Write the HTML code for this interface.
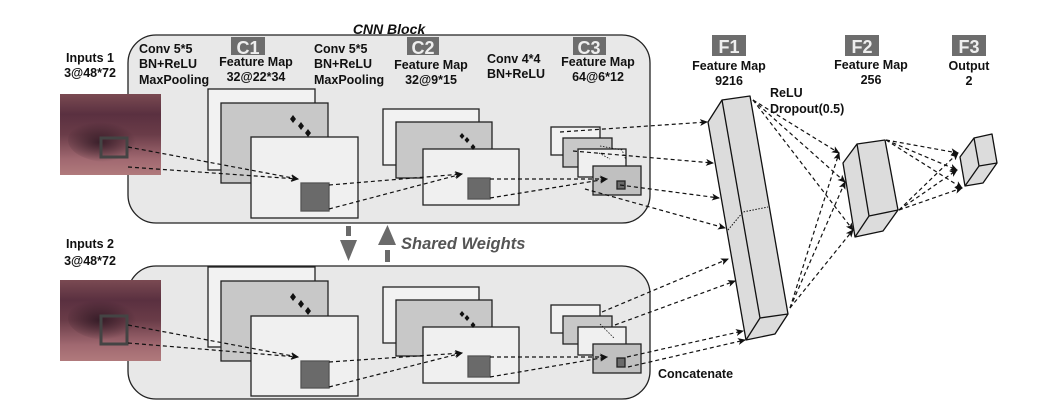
<!DOCTYPE html>
<html><head><meta charset="utf-8"><style>
body{margin:0;background:#fff}
svg{display:block}
text{font-family:"Liberation Sans",sans-serif;font-weight:bold;fill:#111}
</style></head><body>
<svg width="1044" height="416" viewBox="0 0 1044 416" xmlns="http://www.w3.org/2000/svg">
<defs>
<marker id="ah" markerWidth="8" markerHeight="8" refX="7" refY="4" orient="auto" markerUnits="userSpaceOnUse">
<path d="M0,0.5 L8,4 L0,7.5 L2,4 Z" fill="#111"/></marker>
<linearGradient id="eye" x1="0" y1="0" x2="0" y2="1">
<stop offset="0" stop-color="#7a4a52"/><stop offset="0.25" stop-color="#5a3040"/><stop offset="0.5" stop-color="#6a3c48"/><stop offset="0.8" stop-color="#a06870"/><stop offset="1" stop-color="#b07a7c"/></linearGradient>
<radialGradient id="pupil" cx="0.4" cy="0.55" r="0.45"><stop offset="0" stop-color="#2a1520" stop-opacity="0.8"/><stop offset="1" stop-color="#2a1520" stop-opacity="0"/></radialGradient>
</defs>

<!-- top block -->
<rect x="128" y="35" width="522" height="188" rx="28" fill="#e8e8e8" stroke="#222" stroke-width="1.3"/>
<text x="389" y="34" text-anchor="middle" font-size="14" font-style="italic">CNN Block</text>
<!-- bottom block -->
<rect x="128" y="266" width="522" height="133" rx="28" fill="#e8e8e8" stroke="#222" stroke-width="1.3"/>

<!-- labels -->
<text x="90" y="62" text-anchor="middle" font-size="12.5">Inputs 1</text>
<text x="90" y="77" text-anchor="middle" font-size="12.5">3@48*72</text>
<text x="90" y="248" text-anchor="middle" font-size="12.5">Inputs 2</text>
<text x="90" y="265" text-anchor="middle" font-size="12.5">3@48*72</text>

<g font-size="12.5">
<text x="139" y="53">Conv 5*5</text><text x="139" y="68">BN+ReLU</text><text x="139" y="84">MaxPooling</text>
<text x="314" y="53">Conv 5*5</text><text x="314" y="68">BN+ReLU</text><text x="314" y="84">MaxPooling</text>
<text x="487" y="63">Conv 4*4</text><text x="487" y="78">BN+ReLU</text>
<text x="256" y="66" text-anchor="middle">Feature Map</text><text x="256" y="81" text-anchor="middle">32@22*34</text>
<text x="431" y="69" text-anchor="middle">Feature Map</text><text x="431" y="84" text-anchor="middle">32@9*15</text>
<text x="598" y="66" text-anchor="middle">Feature Map</text><text x="598" y="81" text-anchor="middle">64@6*12</text>
<text x="729" y="70" text-anchor="middle">Feature Map</text><text x="729" y="85" text-anchor="middle">9216</text>
<text x="871" y="69" text-anchor="middle">Feature Map</text><text x="871" y="84" text-anchor="middle">256</text>
<text x="969" y="70" text-anchor="middle">Output</text><text x="969" y="85" text-anchor="middle">2</text>
<text x="770" y="97">ReLU</text><text x="770" y="113">Dropout(0.5)</text>
<text x="658" y="378">Concatenate</text>
</g>

<!-- tag boxes -->
<g font-size="18">
<rect x="231" y="37" width="34" height="18" fill="#6d6d6d"/><text x="248" y="54" text-anchor="middle" style="fill:#eee">C1</text>
<rect x="407" y="37" width="32" height="18" fill="#6d6d6d"/><text x="423" y="54" text-anchor="middle" style="fill:#eee">C2</text>
<rect x="573" y="37" width="33" height="18" fill="#6d6d6d"/><text x="589" y="54" text-anchor="middle" style="fill:#eee">C3</text>
<rect x="712" y="35" width="34" height="21" fill="#6d6d6d"/><text x="729" y="53" text-anchor="middle" style="fill:#eee">F1</text>
<rect x="845" y="35" width="34" height="21" fill="#6d6d6d"/><text x="862" y="53" text-anchor="middle" style="fill:#eee">F2</text>
<rect x="952" y="35" width="34" height="21" fill="#6d6d6d"/><text x="969" y="53" text-anchor="middle" style="fill:#eee">F3</text>
</g>

<!-- shared weights -->
<g fill="#6a6a6a">
<rect x="346" y="226" width="5" height="10"/><path d="M340,240 L357,240 L348.5,261 Z"/>
<rect x="385" y="250" width="5" height="12"/><path d="M378,245 L396,245 L387.5,225 Z"/>
</g>
<text x="401" y="249" font-size="16.5" font-style="italic" style="fill:#555">Shared Weights</text>

<!-- eyes -->
<g>
<rect x="60" y="94" width="101" height="81" fill="url(#eye)"/>
<ellipse cx="108" cy="140" rx="40" ry="22" fill="url(#pupil)"/>
<rect x="101" y="138" width="26" height="19" fill="none" stroke="#444" stroke-width="3"/>
<rect x="60" y="280" width="101" height="81" fill="url(#eye)"/>
<ellipse cx="108" cy="318" rx="40" ry="22" fill="url(#pupil)"/>
<rect x="101" y="316" width="26" height="28" fill="none" stroke="#444" stroke-width="3"/>
</g>

<!-- maps top -->
<g stroke="#222" stroke-width="1.3">
<rect x="208" y="89" width="107" height="81" fill="#f2f2f2"/>
<rect x="221" y="103" width="107" height="80" fill="#c8c8c8"/>
<rect x="251" y="137" width="107" height="81" fill="#f0f0f0"/>
<rect x="301" y="183" width="28" height="28" fill="#6a6a6a" stroke="#555"/>
<rect x="383" y="109" width="96" height="56" fill="#f2f2f2"/>
<rect x="396" y="122" width="96" height="56" fill="#c8c8c8"/>
<rect x="423" y="149" width="96" height="56" fill="#f0f0f0"/>
<rect x="468" y="178" width="22" height="21" fill="#6a6a6a" stroke="#555"/>
<rect x="551" y="127" width="49" height="28" fill="#f2f2f2"/>
<rect x="563" y="138" width="49" height="29" fill="#c8c8c8"/>
<rect x="578" y="149" width="48" height="28" fill="#f0f0f0"/>
<rect x="593" y="166" width="48" height="29" fill="#c0c0c0"/>
<rect x="617" y="181" width="8" height="8" fill="#6a6a6a"/>
</g>
<!-- maps bottom -->
<g stroke="#222" stroke-width="1.3">
<rect x="208" y="267" width="107" height="80" fill="#f2f2f2"/>
<rect x="221" y="281" width="107" height="80" fill="#c8c8c8"/>
<rect x="251" y="316" width="107" height="80" fill="#f0f0f0"/>
<rect x="301" y="361" width="28" height="27" fill="#6a6a6a" stroke="#555"/>
<rect x="383" y="287" width="96" height="56" fill="#f2f2f2"/>
<rect x="396" y="300" width="96" height="56" fill="#c8c8c8"/>
<rect x="423" y="327" width="96" height="56" fill="#f0f0f0"/>
<rect x="468" y="356" width="22" height="21" fill="#6a6a6a" stroke="#555"/>
<rect x="551" y="305" width="49" height="28" fill="#f2f2f2"/>
<rect x="563" y="316" width="49" height="28" fill="#c8c8c8"/>
<rect x="578" y="327" width="48" height="28" fill="#f0f0f0"/>
<rect x="593" y="344" width="48" height="29" fill="#c0c0c0"/>
<rect x="617" y="358" width="8" height="9" fill="#6a6a6a"/>
</g>
<!-- diamonds -->
<g fill="#111">
<path d="M293,115 l3,4 -3,4 -3,-4z M301,122 l3,4 -3,4 -3,-4z M308,129 l3,4 -3,4 -3,-4z"/>
<path d="M462,133 l2.5,3 -2.5,3 -2.5,-3z M467,137 l2.5,3 -2.5,3 -2.5,-3z M473,144 l2.5,3 -2.5,3 -2.5,-3z"/>
<path d="M293,293 l3,4 -3,4 -3,-4z M301,300 l3,4 -3,4 -3,-4z M308,307 l3,4 -3,4 -3,-4z"/>
<path d="M462,311 l2.5,3 -2.5,3 -2.5,-3z M467,315 l2.5,3 -2.5,3 -2.5,-3z M473,322 l2.5,3 -2.5,3 -2.5,-3z"/>
</g>

<!-- prisms -->
<g stroke="#111" stroke-width="1.3" fill="#dcdcdc" stroke-linejoin="round">
<path d="M708,122 L722,100 L750,96 L788,314 L775,334 L746,340 Z"/>
<path d="M722,100 L760,318 L746,340 M760,318 L788,314" fill="none"/>
<path d="M843,163 L857,144 L885,140 L898,210 L883,231 L855,237 Z"/>
<path d="M857,144 L869,216 L855,237 M869,216 L898,210" fill="none"/>
<path d="M960,157 L974,138 L992,134 L997,163 L983,183 L965,186 Z"/>
<path d="M974,138 L979,166 L965,186 M979,166 L997,163" fill="none"/>
</g>
<path d="M728,230 L743,212 L768,207" fill="none" stroke="#111" stroke-width="1" stroke-dasharray="1.5 1.5"/>
<path d="M600,146 L622,150 L626,160 M599,153 L610,159 M600,324 L612,336 L614,338" fill="none" stroke="#111" stroke-width="0.8" stroke-dasharray="1.5 1.5"/>

<!-- dashed arrows -->
<g stroke="#111" stroke-width="1.2" stroke-dasharray="4 3" fill="none" marker-end="url(#ah)">
<path d="M128,147 L298,179"/><path d="M128,167 L298,179"/>
<path d="M329,185 L462,174"/><path d="M329,209 L462,174"/>
<path d="M490,179 L607,179"/><path d="M490,198 L607,179"/>
<path d="M128,325 L298,357"/><path d="M128,343 L298,357"/>
<path d="M329,362 L462,353"/><path d="M329,387 L462,353"/>
<path d="M490,357 L607,357"/><path d="M490,377 L607,357"/>
<path d="M560,132 L707,122"/><path d="M573,151 L713,163"/>
<path d="M620,185 L719,198"/><path d="M585,189 L725,228"/>
<path d="M602,312 L728,259"/><path d="M615,325 L735,281"/>
<path d="M627,357 L743,331"/><path d="M628,367 L745,340"/>
<path d="M753,100 L839,153"/><path d="M753,100 L845,182"/><path d="M753,100 L853,230"/>
<path d="M790,308 L839,153"/><path d="M790,308 L845,182"/><path d="M790,308 L853,230"/>
<path d="M886,140 L958,153"/><path d="M886,140 L957,170"/><path d="M886,140 L962,188"/>
<path d="M899,210 L958,153"/><path d="M899,210 L957,170"/><path d="M899,210 L962,188"/>
</g>
</svg>
</body></html>
